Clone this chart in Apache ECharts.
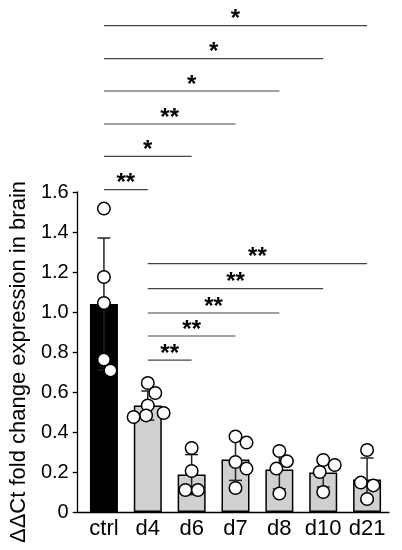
<!DOCTYPE html>
<html><head><meta charset="utf-8">
<script src="https://cdn.jsdelivr.net/npm/echarts@6/dist/echarts.min.js"></script>
<style>html,body{margin:0;padding:0;background:#fff}#c{width:402px;height:550px}</style>
</head><body><div id="c"></div>
<script>
const categories = ['ctrl', 'd4', 'd6', 'd7', 'd8', 'd10', 'd21'];
const barMeans = [1.04, 0.532, 0.187, 0.262, 0.212, 0.197, 0.162];
const barSD = [0.33, 0.073, 0.10, 0.104, 0.096, 0.072, 0.108];
const ptsCtrl = [1.517, 1.175, 1.045, 0.762, 0.708];
const ptsD4 = [0.645, 0.595, 0.533, 0.495, 0.483, 0.475];
const ptsD6 = [0.32, 0.205, 0.11, 0.11];
const ptsD7 = [0.378, 0.347, 0.25, 0.217, 0.12];
const ptsD8 = [0.305, 0.254, 0.217, 0.092];
const ptsD10 = [0.26, 0.235, 0.20, 0.10];
const ptsD21 = [0.31, 0.147, 0.133, 0.065];
const groupPoints = [ptsCtrl, ptsD4, ptsD6, ptsD7, ptsD8, ptsD10, ptsD21];
const sigFrom = ['ctrl', 'ctrl', 'ctrl', 'ctrl', 'ctrl', 'ctrl', 'd4', 'd4', 'd4', 'd4', 'd4'];
const sigTo = ['d4', 'd6', 'd7', 'd8', 'd10', 'd21', 'd6', 'd7', 'd8', 'd10', 'd21'];
const sigY = [1.612, 1.778, 1.94, 2.105, 2.267, 2.432, 0.759, 0.88, 0.995, 1.117, 1.242];
const sigLabel = ['**', '*', '**', '*', '*', '*', '**', '**', '**', '**', '**'];
const yAxisTitle = 'ΔΔCt fold change expression in brain';

const FONT = "'Liberation Sans', Arial, sans-serif";
const chart = echarts.init(document.getElementById('c'), null, {renderer: 'canvas'});

const option = {
  animation: false,
  backgroundColor: '#fff',
  grid: [
    {left: 82, right: 13, top: 192, bottom: 38},
    {left: 82, right: 13, top: 12, bottom: 38},
    {left: 75, right: 13, top: 192, bottom: 38}
  ],
  xAxis: [
    {type: 'category', gridIndex: 0, data: categories, boundaryGap: true,
     axisLine: {show: false}, axisTick: {show: false},
     axisLabel: {interval: 0, fontSize: 22, color: '#000', margin: 6, fontFamily: FONT}},
    {type: 'value', gridIndex: 1, min: -0.5, max: 6.5, show: false},
    {type: 'value', gridIndex: 2, min: 0, max: 1,
     axisLine: {show: true, lineStyle: {color: '#000', width: 1.3}},
     axisTick: {show: false}, axisLabel: {show: false}, splitLine: {show: false}}
  ],
  yAxis: [
    {type: 'value', gridIndex: 0, min: 0, max: 1.6, show: false},
    {type: 'value', gridIndex: 1, min: 0, max: 2.5, show: false},
    {type: 'value', gridIndex: 2, min: 0, max: 1.6, interval: 0.2,
     axisLine: {show: true, lineStyle: {color: '#000', width: 1.3}},
     axisTick: {show: true, length: 5, lineStyle: {color: '#000', width: 1.3}},
     splitLine: {show: false},
     axisLabel: {fontSize: 20, color: '#000', margin: 9, fontFamily: FONT,
       formatter: v => v === 0 ? '0' : v.toFixed(1)},
     name: yAxisTitle, nameLocation: 'middle', nameGap: 46,
     nameTextStyle: {fontSize: 22, color: '#000', fontFamily: FONT, padding: [0, 20, 0, 0]}}
  ],
  series: [
    {type: 'bar', xAxisIndex: 0, yAxisIndex: 0, barWidth: 28, z: 2,
     data: barMeans.map((v, i) => ({value: v, itemStyle: i === 0
       ? {color: '#000', borderColor: '#000', borderWidth: 1.5}
       : {color: '#d0d0d0', borderColor: '#000', borderWidth: 1.5}}))},
    {type: 'custom', xAxisIndex: 0, yAxisIndex: 0, z: 3,
     encode: {x: 0, y: [1, 2]},
     data: barMeans.map((m, i) => [i, m - barSD[i], m + barSD[i]]),
     renderItem: (params, api) => {
       const x = api.value(0);
       const lo = api.coord([x, api.value(1)]);
       const hi = api.coord([x, api.value(2)]);
       const hw = 6.5;
       const st = {stroke: '#222', lineWidth: 1.5};
       return {type: 'group', children: [
         {type: 'line', shape: {x1: hi[0], y1: hi[1], x2: lo[0], y2: lo[1]}, style: st},
         {type: 'line', shape: {x1: hi[0] - hw, y1: hi[1], x2: hi[0] + hw, y2: hi[1]}, style: st},
         {type: 'line', shape: {x1: lo[0] - hw, y1: lo[1], x2: lo[0] + hw, y2: lo[1]}, style: st}
       ]};
     }},
    {id: 'pts', type: 'scatter', xAxisIndex: 0, yAxisIndex: 0, z: 5,
     symbol: 'circle', symbolSize: 12.5,
     itemStyle: {color: '#fff', borderColor: '#000', borderWidth: 1.5, opacity: 1},
     data: groupPoints.flatMap((vals, gi) => vals.map(v => [gi, v]))},
    {type: 'custom', xAxisIndex: 1, yAxisIndex: 1, z: 4,
     encode: {x: [0, 1], y: 2},
     data: sigFrom.map((f, k) => [categories.indexOf(f), categories.indexOf(sigTo[k]), sigY[k], sigLabel[k]]),
     renderItem: (params, api) => {
       const p1 = api.coord([api.value(0), api.value(2)]);
       const p2 = api.coord([api.value(1), api.value(2)]);
       const lab = sigLabel[params.dataIndex];
       return {type: 'group', children: [
         {type: 'line', shape: {x1: p1[0], y1: p1[1], x2: p2[0], y2: p2[1]},
          style: {stroke: '#444', lineWidth: 1.2}},
         {type: 'text', x: (p1[0] + p2[0]) / 2, y: p1[1] - 6,
          style: {text: lab, fontSize: 24, fontWeight: 'bold', fill: '#000', fontFamily: FONT,
                  align: 'center', verticalAlign: 'middle'}}
       ]};
     }}
  ]
};
chart.setOption(option);

// beeswarm-style spreading of overlapping points (computed in pixel space)
const diam = 12.5;
const scatterData = [];
groupPoints.forEach((vals, gi) => {
  const order = vals.map((v, k) => k).sort((a, b) => vals[b] - vals[a]);
  const placed = [];
  order.forEach(k => {
    const y = chart.convertToPixel({yAxisIndex: 0}, vals[k]);
    let dx = null;
    for (let d = 0; d < 80 && dx === null; d += 0.5) {
      const cands = d === 0 ? [0] : [d, -d];
      for (const c of cands) {
        if (placed.every(p => Math.hypot(p.dx - c, p.y - y) >= diam)) { dx = c; break; }
      }
    }
    placed.push({k, y, dx: dx || 0});
  });
  // re-centre rows of points at (almost) the same height
  let i = 0;
  while (i < placed.length) {
    let j = i;
    while (j + 1 < placed.length && Math.abs(placed[j + 1].y - placed[j].y) < 5) j++;
    if (j > i) {
      const row = placed.slice(i, j + 1);
      const mean = row.reduce((s, p) => s + p.dx, 0) / row.length;
      row.forEach(p => { p.dx -= mean; });
    }
    i = j + 1;
  }
  placed.forEach(p => scatterData.push({value: [gi, vals[p.k]], symbolOffset: [p.dx, 0]}));
});
chart.setOption({series: [{id: 'pts', data: scatterData}]});
</script>
</body></html>
